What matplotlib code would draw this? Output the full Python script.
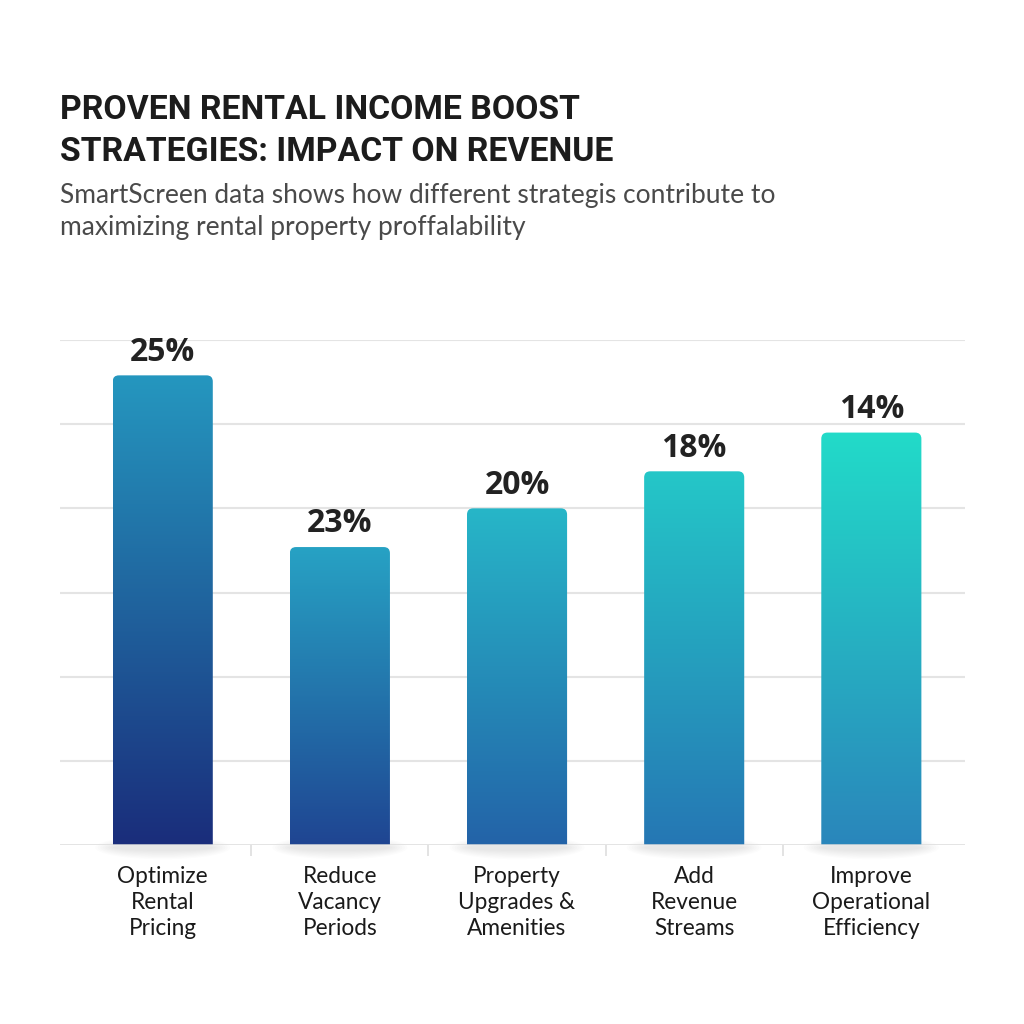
import matplotlib.pyplot as plt
import numpy as np
from matplotlib.patches import FancyBboxPatch, Ellipse
from matplotlib.colors import LinearSegmentedColormap

# data (bar heights do not match the printed labels)
categories = ["Optimize\nRental\nPricing", "Reduce\nVacancy\nPeriods",
              "Property\nUpgrades &\nAmenities", "Add\nRevenue\nStreams",
              "Improve\nOperational\nEfficiency"]
heights = [27.9, 17.7, 20.0, 22.2, 24.5]
value_labels = ["25%", "23%", "20%", "18%", "14%"]

# gradient colours per bar (top, bottom)
top_colors = ["#2597bf", "#27a2c4", "#27b6c8", "#24c7c8", "#22dbc9"]
bottom_colors = ["#1a2d7b", "#1f4592", "#2363a8", "#2677b4", "#2a86bb"]

fig = plt.figure(figsize=(10.24, 10.24), dpi=100)
fig.patch.set_facecolor("white")
ax = fig.add_axes([0.0586, 1 - 845 / 1024, 0.884, 505 / 1024])

xmin, xmax = -0.58, 4.53
ymin, ymax = 0, 30
ax.set_xlim(xmin, xmax)
ax.set_ylim(ymin, ymax)

x = np.arange(len(categories))
width = 0.565

# grid
for gy in np.arange(5, 31, 5):
    ax.axhline(gy, color="#e4e4e4", lw=1.5, zorder=0)
ax.axhline(0, color="#dcdcdc", lw=1.8, zorder=4)

aspect = (30 / 505) / (5.11 / 905)
for i, h in enumerate(heights):
    x0 = x[i] - width / 2
    # soft shadow at the foot
    for k in range(8):
        sh = Ellipse((x[i], -0.15), width * (1.35 - 0.05 * k), 1.4 - 0.14 * k,
                     color="#000000", alpha=0.012, lw=0, zorder=1, clip_on=False)
        ax.add_patch(sh)
    clip = FancyBboxPatch((x0, -2), width, h + 2,
                          boxstyle="round,pad=0,rounding_size=0.035",
                          mutation_aspect=aspect, facecolor="none",
                          edgecolor="none", transform=ax.transData)
    ax.add_patch(clip)
    cmap = LinearSegmentedColormap.from_list("g", [bottom_colors[i], top_colors[i]])
    grad = np.linspace(0, 1, 256).reshape(-1, 1)
    im = ax.imshow(grad, extent=(x0, x0 + width, 0, h), origin="lower",
                   cmap=cmap, aspect="auto", zorder=3)
    im.set_clip_path(clip)
    ax.text(x[i], h + 0.4, value_labels[i], ha="center", va="bottom",
            fontsize=23, fontweight="bold", color="#222222",
            family="Open Sans")

ax.set_xlim(xmin, xmax)
ax.set_ylim(ymin, ymax)

for s in ax.spines.values():
    s.set_visible(False)
ax.set_yticks([])
ax.set_xticks(x)
ax.set_xticklabels(categories, fontsize=16.3, color="#1a1a1a", family="Lato",
                   linespacing=1.3)
ax.tick_params(axis="x", which="major", length=0, pad=15)
ax.set_xticks(x[:-1] + 0.5, minor=True)
ax.tick_params(axis="x", which="minor", length=8, width=1.2, color="#dedede")

fig.text(60 / 1024, 1 - 110 / 1024, "PROVEN RENTAL INCOME BOOST",
         fontsize=24.3, fontweight="bold", color="#1c1c1c", family="Roboto",
         va="center", ha="left")
fig.text(60 / 1024, 1 - 152 / 1024, "STRATEGIES: IMPACT ON REVENUE",
         fontsize=24.3, fontweight="bold", color="#1c1c1c", family="Roboto",
         va="center", ha="left")
fig.text(60 / 1024, 1 - 196 / 1024,
         "SmartScreen data shows how different strategis contribute to",
         fontsize=19, color="#4a4a4a", family="Lato", va="center", ha="left")
fig.text(60 / 1024, 1 - 228 / 1024,
         "maximizing rental property proffalability",
         fontsize=19, color="#4a4a4a", family="Lato", va="center", ha="left")

fig.savefig("out.png", dpi=100, facecolor="white")
